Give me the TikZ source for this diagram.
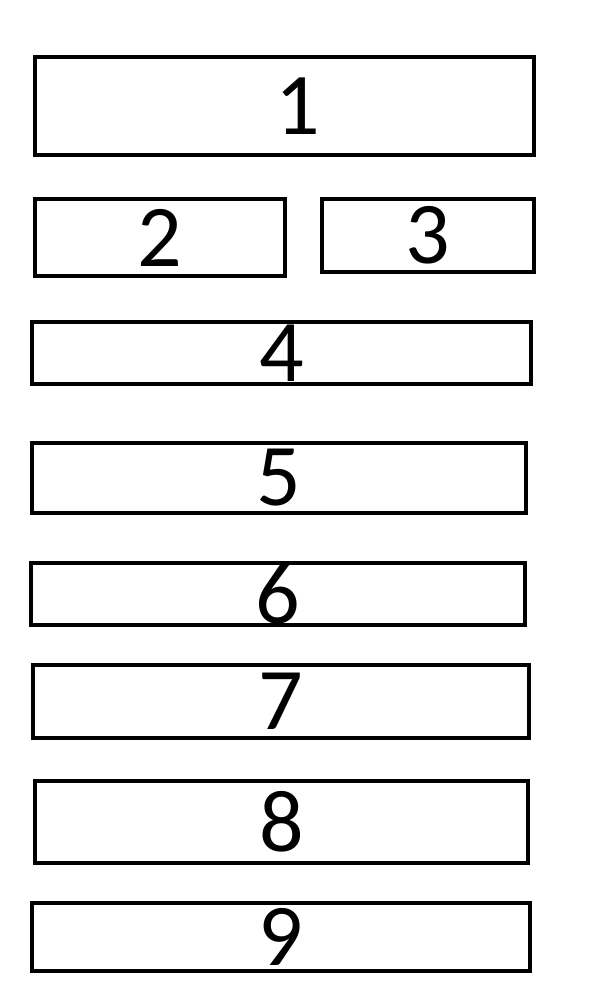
\documentclass[tikz,border=0pt]{standalone}
\usepackage{fontspec}
\setmainfont{Carlito}
\usepackage{tikz}
\usetikzlibrary{shapes,arrows}
\tikzstyle{field} = [rectangle, draw, line width=3.8pt, inner sep=0pt, text centered, font=\fontsize{88}{90}\selectfont]

\begin{document}
\begin{tikzpicture}[x=1pt, y=1pt]
			\useasboundingbox (0,0) rectangle (590,1000);
			\node [field, minimum width=499pt, minimum height=98pt] (one) at (284.5,894) {\hspace{26pt}1};
			\node [field, minimum width=250pt, minimum height=77pt] (two) at (160,762.5) {2\hspace{10pt}};
			\node [field, minimum width=212pt, minimum height=73pt] (three) at (428,764.5) {3};
			\node [field, minimum width=499pt, minimum height=62pt] (four) at (281.5,647) {4\hspace{16pt}};
			\node [field, minimum width=494pt, minimum height=70pt] (five) at (279,522) {5};
			\node [field, minimum width=494pt, minimum height=62pt] (six) at (278,406) {6};
			\node [field, minimum width=496pt, minimum height=73pt] (seven) at (281,298.5) {7};
			\node [field, minimum width=493pt, minimum height=82pt] (eight) at (281.5,178) {8};
			\node [field, minimum width=498pt, minimum height=68pt] (nine) at (281,63) {9};
		\end{tikzpicture}
\end{document}
